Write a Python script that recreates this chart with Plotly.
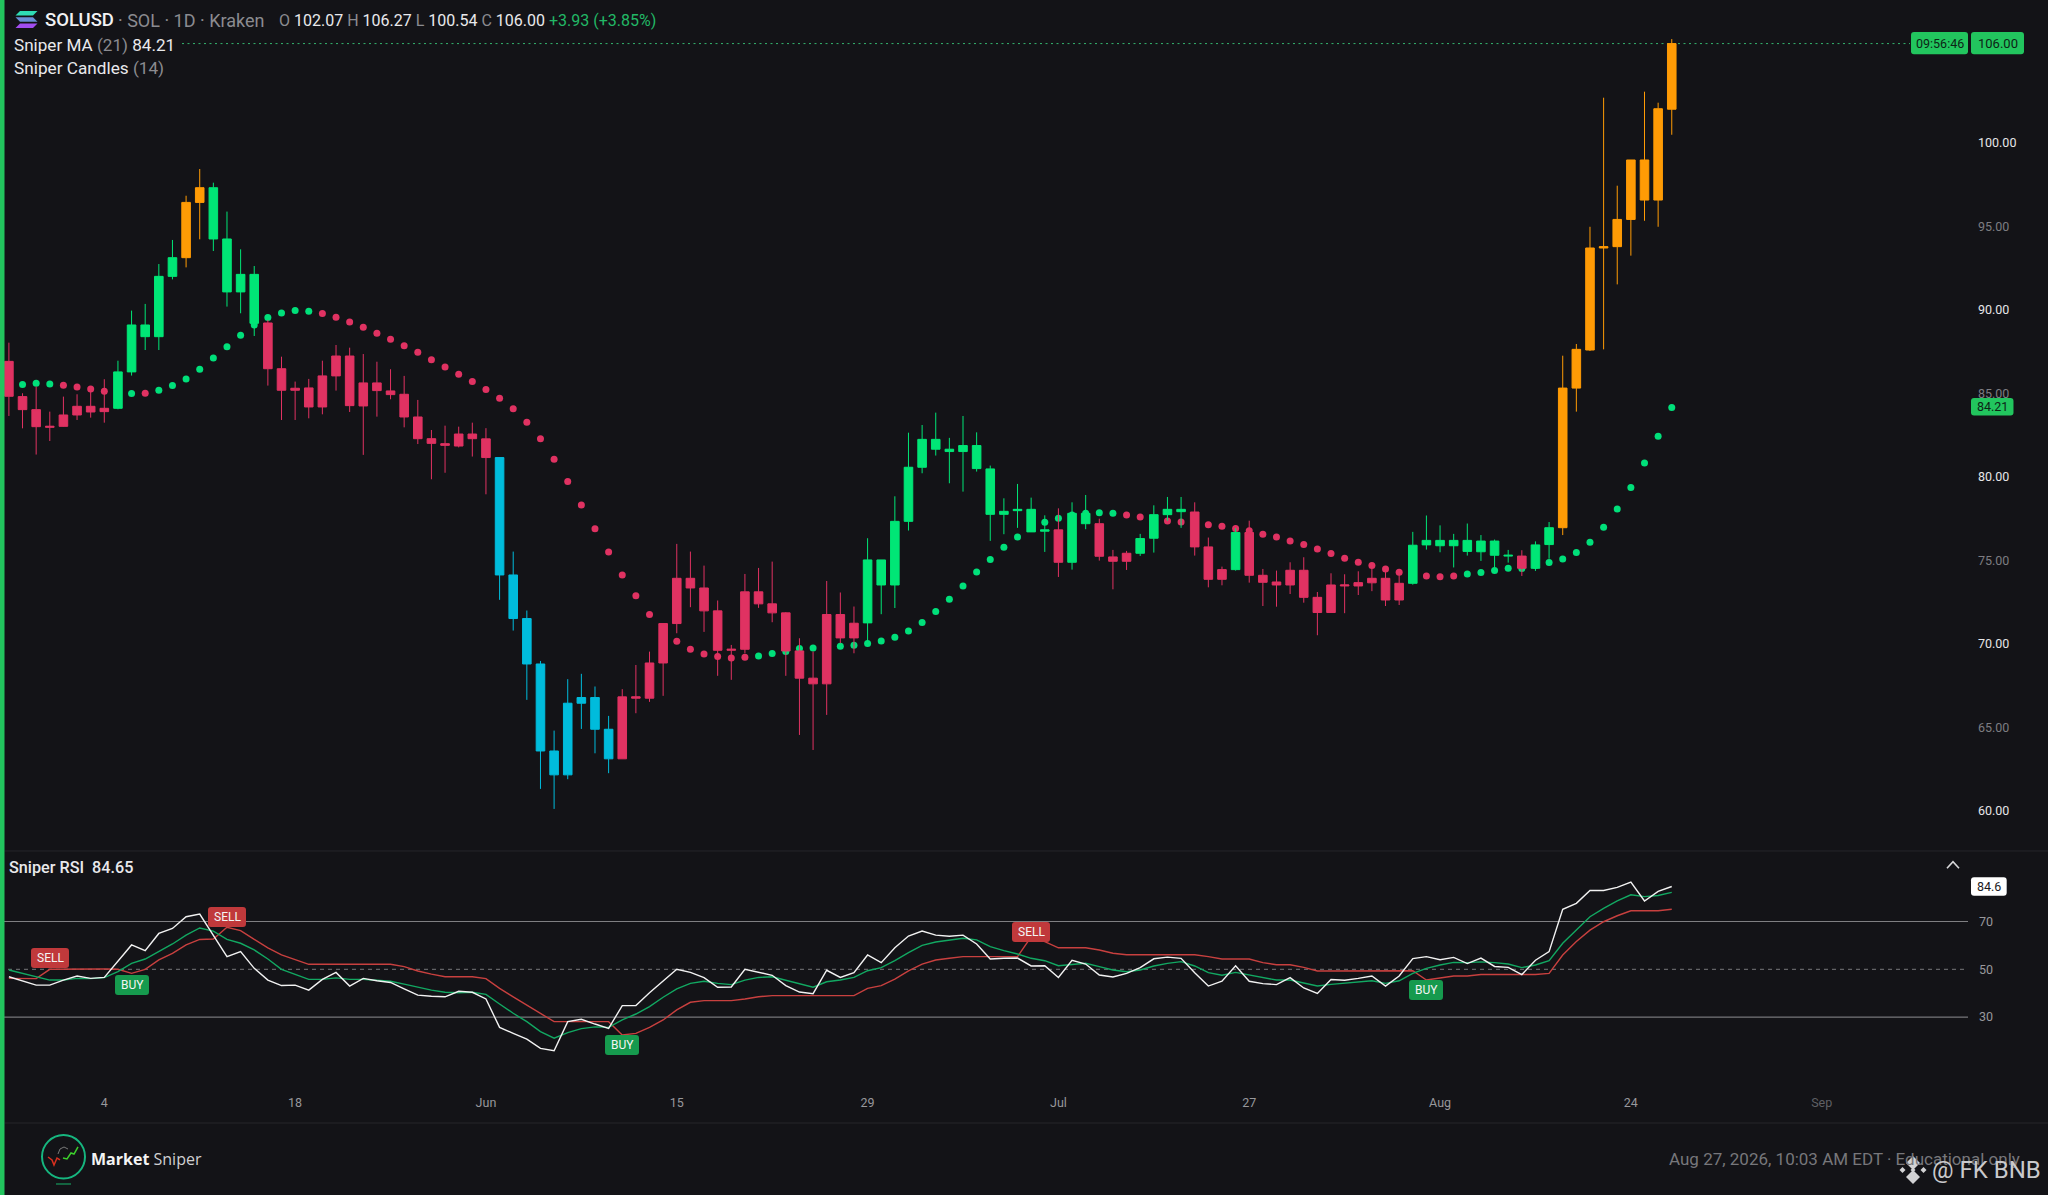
import pandas as pd
import plotly.graph_objects as go

W, H = 2048, 1195
BG = "#131317"

start_date = "2026-04-27"
candle_color = list("RRRRRRRRGGGGGOOGGGGRRRRRRRRRRRRRRRRRCCCCCCCCCRRRRRRRRRRRRRRRRRRGGGGGGGGGGGGGGRGGRRRGGGGRRRGRRRRRRRRRRRRGGGGGGGGRGGOOOOOOOOO")
highs = [88.09,85.06,85.46,83.96,84.86,85.00,85.26,85.90,87.01,90.01,90.41,92.80,94.24,96.89,98.49,97.67,95.94,93.68,92.68,89.45,
         87.25,85.76,85.92,87.01,87.95,87.79,87.41,86.95,86.50,86.10,84.66,82.86,83.12,83.06,83.30,82.97,81.21,75.58,72.05,69.03,
         64.86,67.94,68.26,67.50,65.74,67.34,68.79,69.59,71.27,76.04,75.58,74.74,72.65,69.99,74.24,74.60,74.98,71.95,70.39,69.59,
         73.82,73.13,72.29,76.38,75.08,78.89,82.70,83.16,83.90,82.39,83.70,82.72,80.73,78.77,79.63,78.81,77.75,78.17,78.53,78.97,
         77.55,75.68,75.62,76.64,78.35,78.85,78.85,78.53,76.42,74.68,76.98,77.43,74.54,74.44,74.94,75.24,73.16,74.28,74.22,74.40,
         74.56,74.48,74.18,76.76,77.74,77.15,76.64,77.26,76.57,76.30,75.68,75.66,76.19,77.35,87.31,88.01,95.03,102.76,97.49,99.03,
         103.12,102.46,106.27]
body_high = [86.97,84.86,84.08,83.08,83.76,84.28,84.28,84.16,86.34,89.15,89.15,92.06,93.18,96.49,97.37,97.37,94.30,92.18,92.18,89.27,
             86.53,85.36,85.38,86.10,87.29,87.29,85.68,85.68,85.20,85.00,83.64,82.34,82.04,82.62,82.62,82.33,81.21,74.18,71.57,68.85,
             63.64,66.50,66.84,66.84,64.94,66.88,66.88,68.91,71.27,73.98,73.98,73.40,72.03,69.73,73.17,73.17,72.45,71.91,69.63,68.00,
             71.81,71.81,71.29,75.08,75.08,77.39,80.63,82.30,82.30,81.71,81.93,81.93,80.53,77.99,78.11,78.11,76.88,76.88,77.87,77.87,
             77.25,75.26,75.48,76.36,77.79,78.11,78.11,77.95,75.86,74.50,76.72,76.72,74.16,73.76,74.46,74.46,72.84,73.58,73.58,73.72,
             73.98,73.98,73.68,75.96,76.25,76.25,76.25,76.25,76.21,76.21,75.36,75.31,75.98,77.01,85.37,87.69,93.76,93.84,95.47,99.03,
             99.03,102.10,106.00]
body_low = [84.88,84.08,83.06,83.02,83.08,83.76,83.94,83.96,84.16,86.34,88.45,88.45,92.06,93.18,96.49,94.30,91.13,91.13,89.25,86.53,
            85.24,85.24,84.24,84.24,86.10,84.32,84.30,85.22,84.98,83.64,82.34,82.06,81.94,81.90,82.34,81.21,74.18,71.57,68.85,63.64,
            62.21,62.21,66.50,64.94,63.17,63.17,66.80,66.80,68.91,71.27,73.40,72.03,69.67,69.67,69.73,72.45,71.91,69.63,68.00,67.66,
            67.66,70.41,70.41,71.31,73.58,73.58,77.39,80.63,81.71,81.57,81.57,80.55,77.81,77.81,78.03,76.76,76.80,74.94,74.94,77.25,
            75.30,75.00,75.00,75.48,76.38,77.79,77.97,75.86,73.92,73.92,74.50,74.16,73.74,73.58,73.58,72.84,71.93,71.93,73.52,73.52,
            73.71,72.68,72.68,73.68,75.98,75.93,75.93,75.59,75.57,75.36,75.31,74.58,74.58,76.00,77.01,85.37,87.65,93.76,93.84,95.47,
            96.63,96.63,102.07]
lows = [83.70,82.96,81.39,82.20,83.06,83.46,83.60,83.30,84.10,86.12,87.65,87.65,91.88,92.60,94.28,93.58,90.25,89.85,88.49,85.52,
        83.46,83.46,83.56,83.80,85.22,83.94,81.37,83.66,84.70,83.02,82.02,79.91,80.30,81.82,81.27,79.01,72.69,70.85,66.70,61.37,
        60.17,61.95,64.96,63.50,62.31,63.17,65.90,66.58,66.94,70.69,72.25,70.77,68.14,67.90,69.49,72.21,71.35,68.14,64.60,63.70,
        65.80,70.09,69.49,70.19,71.83,72.20,76.84,80.27,81.33,79.67,79.17,80.37,76.22,76.62,77.00,76.76,75.56,74.06,74.50,76.92,
        75.04,73.32,74.48,75.32,75.52,77.43,77.00,75.34,73.44,73.56,74.44,73.72,72.32,72.28,73.04,72.52,70.57,71.93,71.89,72.98,
        73.21,72.32,72.38,73.60,75.70,75.54,74.63,75.34,75.02,74.65,74.92,74.12,74.42,75.15,76.57,83.96,87.59,87.69,91.58,93.30,
        95.39,95.03,100.54]

sniper_ma = [None,85.58,85.66,85.62,85.54,85.44,85.32,85.18,85.10,85.04,85.06,85.24,85.52,85.92,86.50,87.17,87.85,88.53,89.15,89.59,
             89.87,90.01,89.97,89.83,89.61,89.33,89.01,88.65,88.29,87.91,87.51,87.07,86.63,86.20,85.76,85.28,84.76,84.14,83.33,82.33,
             81.11,79.77,78.37,76.94,75.56,74.18,72.93,71.81,70.89,70.21,69.73,69.45,69.29,69.21,69.25,69.33,69.47,69.59,69.77,69.81,
             69.85,69.91,69.97,70.07,70.23,70.45,70.83,71.33,71.99,72.72,73.52,74.36,75.10,75.84,76.46,76.98,77.33,77.57,77.77,77.87,
             77.91,77.87,77.77,77.65,77.55,77.41,77.35,77.25,77.19,77.09,76.96,76.82,76.62,76.46,76.22,76.00,75.74,75.46,75.18,74.94,
             74.74,74.54,74.34,74.14,74.12,74.08,74.12,74.24,74.33,74.45,74.58,74.56,74.74,74.92,75.13,75.52,76.14,77.03,78.13,79.42,
             80.88,82.49,84.21]
ma_color = list("GGGRRRRRGRGGGGGGGGGGGGRRRRRRRRRRRRRRRRRRRRRRRRRRRRRRRRGGGGGGGGGGGGGGGGGGGGGGGGGGGRRRRRRRRRRRRRRRRRRRRRRRRRGGGGGGGGGGGGGGGGGGG")

rsi_white = [46.9,45.2,43.4,43.4,45.5,47.2,46.2,46.6,53.2,60.2,57.8,65.0,67.1,72.0,73.1,64.4,55.3,57.4,50.4,45.5,
             43.2,43.4,41.3,45.8,48.7,43.0,46.2,45.2,44.5,41.8,39.2,38.7,38.5,40.8,40.4,37.6,25.7,23.2,20.8,16.9,
             15.9,28.1,29.1,27.1,25.3,34.8,34.8,40.2,45.1,50.0,48.7,46.5,42.5,42.6,50.0,48.7,47.5,43.2,40.5,39.8,
             49.6,46.6,48.6,56.0,52.8,59.0,63.9,66.0,64.3,63.8,64.3,60.6,54.3,54.6,54.7,51.4,51.5,46.6,53.8,52.2,
             47.6,46.8,48.3,50.7,54.4,55.1,54.6,48.6,43.0,45.0,51.5,45.0,44.0,43.6,46.5,42.2,39.9,45.7,45.4,46.2,
             47.2,43.0,47.2,54.5,55.3,54.0,55.0,52.4,54.7,51.2,50.8,47.8,53.8,57.4,75.1,77.6,83.0,83.0,84.3,86.5,
             78.6,82.6,84.65]
rsi_green = [49.7,48.3,46.6,45.5,45.5,46.2,46.1,46.5,49.0,52.5,54.3,57.4,60.6,64.3,67.3,66.0,62.5,60.9,58.1,54.3,
             50.0,47.9,45.8,45.8,46.4,45.8,45.8,45.4,45.0,43.8,42.5,41.3,40.4,40.2,40.4,39.5,35.5,31.6,28.1,23.9,
             21.2,23.5,25.2,25.9,25.7,28.8,31.3,34.4,38.3,41.8,44.1,45.0,44.1,43.6,45.5,46.6,46.9,45.5,43.8,42.5,
             44.8,45.5,46.6,49.4,50.7,53.6,57.0,60.0,61.4,62.3,63.0,62.3,59.5,57.8,56.4,54.6,53.6,51.5,51.9,52.5,
             51.1,49.7,49.0,49.7,51.4,52.5,53.2,51.4,48.6,47.5,48.7,47.6,46.4,45.5,45.5,44.1,43.0,43.7,44.1,44.5,
             45.2,44.1,45.2,48.3,50.4,51.8,52.9,52.8,53.1,52.8,52.2,50.7,51.8,53.6,60.9,66.4,72.0,75.5,78.6,81.2,
             80.4,80.9,82.2]
rsi_red = [46.2,46.1,46.1,50.0,50.1,50.1,50.1,50.1,50.0,48.3,50.0,53.9,56.7,60.2,62.5,62.7,67.6,66.2,62.5,59.0,
           56.0,54.2,52.1,52.1,52.1,52.1,52.1,52.1,52.1,51.1,49.3,48.0,46.9,46.9,46.9,46.1,42.0,38.5,35.1,31.6,
           28.1,28.1,28.1,28.1,28.1,22.5,23.2,25.7,28.8,33.0,36.2,36.9,36.9,36.9,37.6,38.5,39.0,39.0,39.0,39.0,
           39.0,39.0,39.0,42.0,43.2,45.9,49.3,52.2,53.9,54.6,55.3,55.3,55.3,55.3,55.3,63.6,61.6,59.0,59.0,59.0,
           58.1,56.7,56.1,56.1,56.1,56.1,56.1,56.1,55.3,54.3,54.3,54.3,52.8,51.9,51.9,50.8,49.3,49.3,49.3,49.3,
           49.3,49.4,49.4,49.4,45.5,46.2,47.2,47.2,47.8,47.8,47.8,47.8,47.8,48.3,56.0,61.6,66.4,69.9,72.4,74.5,
           74.5,74.5,75.1]

price_ticks = [60, 65, 70, 75, 80, 85, 90, 95, 100]
rsi_ticks = [30, 50, 70]
x_tick_dates = ["2026-05-04","2026-05-18","2026-06-01","2026-06-15","2026-06-29","2026-07-13","2026-07-27","2026-08-10","2026-08-24","2026-09-07"]
x_tick_labels = ["4","18","Jun","15","29","Jul","27","Aug","24","Sep"]
signals = [("SELL",50,958),("SELL",227,917),("BUY",132,985),("BUY",622,1045),("SELL",1031,932),("BUY",1426,990)]

CANDLE = {"G":"#00e676","R":"#e03262","C":"#00bcdc","O":"#ff9b05"}
DOT = {"G":"#00e07a","R":"#e03262"}

dates = pd.date_range(start_date, periods=len(highs), freq="D")
base = pd.Timestamp(start_date)
x_left = base + pd.Timedelta(days=(0-8.9)/13.63)
x_right = base + pd.Timedelta(days=(1968-8.9)/13.63)

fig = go.Figure()
fig.add_trace(go.Scatter(x=dates[1:], y=sniper_ma[1:], mode="markers", xaxis="x", yaxis="y",
                         marker=dict(size=7, color=[DOT[c] for c in ma_color], line=dict(width=0)),
                         showlegend=False, hoverinfo="skip"))
for code, col in CANDLE.items():
    idx = [i for i, c in enumerate(candle_color) if c == code]
    side = dict(line=dict(color=col, width=1), fillcolor=col)
    fig.add_trace(go.Candlestick(
        x=[dates[i] for i in idx],
        open=[body_low[i] for i in idx], high=[highs[i] for i in idx],
        low=[lows[i] for i in idx], close=[body_high[i] for i in idx],
        increasing=side, decreasing=side, whiskerwidth=0, xaxis="x", yaxis="y3",
        showlegend=False, hoverinfo="skip"))
for vals, col, wd in ((rsi_red,"#c8403f",1.4),(rsi_green,"#12a862",1.4),(rsi_white,"#f2f2f2",1.4)):
    fig.add_trace(go.Scatter(x=dates, y=vals, mode="lines", line=dict(color=col, width=wd),
                             xaxis="x2", yaxis="y2", showlegend=False, hoverinfo="skip"))

def px(x): return x / W
def py(y): return 1 - y / H

shapes, notes = [], []
def path(d, fill=None, line=None, lw=1, layer="above"):
    shapes.append(dict(type="path", xref="paper", yref="paper", path=d, fillcolor=fill or "rgba(0,0,0,0)",
                       line=dict(color=line or "rgba(0,0,0,0)", width=lw if line else 0), layer=layer))
def poly(pts, fill=None, line=None, lw=1, close=True):
    d = "M " + " L ".join(f"{px(a):.5f},{py(b):.5f}" for a, b in pts) + (" Z" if close else "")
    path(d, fill, line, lw)
def rr(x0, y0, x1, y1, r, fill):
    p = lambda a, b: f"{px(a):.5f},{py(b):.5f}"
    path(f"M {p(x0+r,y0)} L {p(x1-r,y0)} Q {p(x1,y0)} {p(x1,y0+r)} L {p(x1,y1-r)} Q {p(x1,y1)} {p(x1-r,y1)} "
         f"L {p(x0+r,y1)} Q {p(x0,y1)} {p(x0,y1-r)} L {p(x0,y0+r)} Q {p(x0,y0)} {p(x0+r,y0)} Z", fill)
def text(x, y, s, size=16, color="#e8e8ea", anchor="left", font="Roboto", weight=400):
    notes.append(dict(xref="paper", yref="paper", x=px(x), y=py(y), text=s, showarrow=False, xanchor=anchor,
                      yanchor="middle", align=anchor, font=dict(family=font, size=size, color=color, weight=weight),
                      borderpad=0, borderwidth=0))
def hline(yv, x1, col, dash="solid", yref="y2", wd=1, x0=0, layer="below"):
    shapes.append(dict(type="line", xref="paper", yref=yref, x0=x0, x1=px(x1), y0=yv, y1=yv,
                       line=dict(color=col, width=wd, dash=dash), layer=layer))

# pane separators and left bar
poly([(4.5,851),(2048,851)], None, "#26262b", 1, close=False)
poly([(4.5,1123),(2048,1123)], None, "#26262b", 1, close=False)
poly([(0,0),(4.5,0),(4.5,1195),(0,1195)], "#22c55e")

# RSI guide lines
hline(70, 1968, "#7f7f82")
hline(30, 1968, "#8f8f92")
hline(50, 1968, "#77777b", dash="4px,4px")
# last price line
hline(body_high[-1], 1910, "#35b56f", dash="2px,3.5px", yref="y", x0=px(182), layer="below")

# header
poly([(20,11),(37.5,11),(33,15.5),(15.5,15.5)], "#2fdcb4")
poly([(15.5,17.3),(33,17.3),(37.5,21.8),(20,21.8)], "#6a8fd6")
poly([(20,23.6),(37.5,23.6),(33,28.1),(15.5,28.1)], "#a24df0")
G = "#8b8b90"; B = "#e9e9ec"
text(45, 20, "SOLUSD", 18.5, "#f2f2f4", weight=500)
text(118, 20, "· SOL · 1D · Kraken", 18, G)
text(279, 20, f'<span style="color:{G}">O</span> 102.07 <span style="color:{G}">H</span> 106.27 '
             f'<span style="color:{G}">L</span> 100.54 <span style="color:{G}">C</span> 106.00 '
             f'<span style="color:#22b866">+3.93 (+3.85%)</span>', 16, B)
text(14, 45, f'Sniper MA <span style="color:{G}">(21)</span> 84.21', 17.1, B)
text(14, 68, f'Sniper Candles <span style="color:{G}">(14)</span>', 17.2, B)
text(9, 867, "Sniper RSI  84.65", 16.2, B, weight=500)

# price badges
rr(1911,32,1968,54.3,3,"#22c55e"); text(1939.5,43,"09:56:46",12.5,"#0d2416","center")
rr(1971,32,2024,54.3,3,"#22c55e"); text(1997.5,43,"106.00",13,"#0d2416","center")
rr(1971,398,2013.5,415.6,3,"#22c55e"); text(1992,407,"84.21",12.5,"#0d2416","center")
rr(1971,877.3,2006.7,895.7,3,"#ffffff"); text(1989,886.5,"84.6",12.5,"#1a1a1e","center")
poly([(1947,868.3),(1953,861.7),(1959,868.3)], None, "#d8d8da", 1.6, close=False)

# RSI signal badges
for label, cx, cy in signals:
    half = 19 if label == "SELL" else 17
    rr(cx-half, cy-10, cx+half, cy+10, 3, "#c0393b" if label == "SELL" else "#169a4e")
    text(cx, cy, label, 12, "#f4f4f4", "center")

# footer
shapes.append(dict(type="circle", xref="paper", yref="paper", x0=px(42), x1=px(85), y0=py(1178.5), y1=py(1135),
                   line=dict(color="#16b67f", width=2), fillcolor="rgba(0,0,0,0)"))
poly([(48,1157),(52,1160),(54,1165),(57,1158),(60,1160)], None, "#d8301f", 1.5, close=False)
poly([(63,1158),(67,1159),(71,1153),(74,1154),(78,1147)], None, "#3ccf2c", 1.5, close=False)
poly([(58,1154),(60,1149),(64,1147),(68,1149)], None, "#7a7a7a", 1, close=False)
poly([(56,1184),(71,1184)], None, "#16804f", 1.5, close=False)
text(91, 1159, '<b>Market</b> <span style="color:#d0d0d2">Sniper</span>', 16, "#f4f4f4", font="Open Sans")
text(2020, 1159, "Aug 27, 2026, 10:03 AM EDT · Educational only", 17, "#77777b", "right")
text(1932, 1170, "@ FK BNB", 24, "#c9c9cc")
for cx, cy, r in ((1913,1163,7),(1902.5,1170,3),(1923.5,1170,3),(1913,1170,2.5),(1913,1177,7)):
    poly([(cx,cy-r),(cx+r,cy),(cx,cy+r),(cx-r,cy)], "#d2d2d4")

def tick_label(v):
    col = "#e6e6e8" if v % 10 == 0 else "#7d7d82"
    return f'<span style="color:{col}">{v:.2f}</span>'

axis_off = dict(showgrid=False, zeroline=False, showline=False, fixedrange=True)
y_range = [57.65, 108.61]
fig.update_layout(
    width=W, height=H, margin=dict(l=0, r=0, t=0, b=0), autosize=False,
    paper_bgcolor=BG, plot_bgcolor=BG, showlegend=False, hovermode=False,
    boxgap=0.37, boxgroupgap=0, dragmode=False,
    font=dict(family="Roboto", color="#8b8b90", size=12.5),
    shapes=shapes, annotations=notes,
    xaxis=dict(**axis_off, domain=[0, 1968/W], range=[x_left, x_right], type="date", matches="x2",
               showticklabels=False, anchor="y", rangeslider=dict(visible=False)),
    xaxis2=dict(**axis_off, domain=[0, 1968/W], range=[x_left, x_right], type="date", anchor="y2",
                tickmode="array", tickvals=x_tick_dates, ticktext=[
                    f'<span style="color:{"#5f5f64" if t == "Sep" else "#98989c"}">{t}</span>' for t in x_tick_labels],
                ticks="", ticklabelstandoff=3, tickfont=dict(size=12.5, family="Roboto")),
    yaxis=dict(**axis_off, domain=[1-851/H, 1], range=y_range, side="right", anchor="x",
               tickmode="array", tickvals=price_ticks, ticktext=[tick_label(v) for v in price_ticks],
               ticks="", ticklabelstandoff=9, ticklabelshift=-1, tickfont=dict(size=12.5, family="Roboto")),
    yaxis3=dict(**axis_off, range=y_range, overlaying="y", side="right", anchor="x", visible=False),
    yaxis2=dict(**axis_off, domain=[1-1090/H, 1-851/H], range=[-0.5, 99.5], side="right", anchor="x2",
                tickmode="array", tickvals=rsi_ticks, ticktext=[str(v) for v in rsi_ticks],
                ticks="", ticklabelstandoff=10, tickfont=dict(size=12.5, family="Roboto", color="#98989c")),
)
fig.write_html("out.html", config=dict(displayModeBar=False, staticPlot=True),
               post_script="document.body.style.margin='0';document.body.style.background='%s';document.documentElement.style.overflow='hidden';" % BG)
